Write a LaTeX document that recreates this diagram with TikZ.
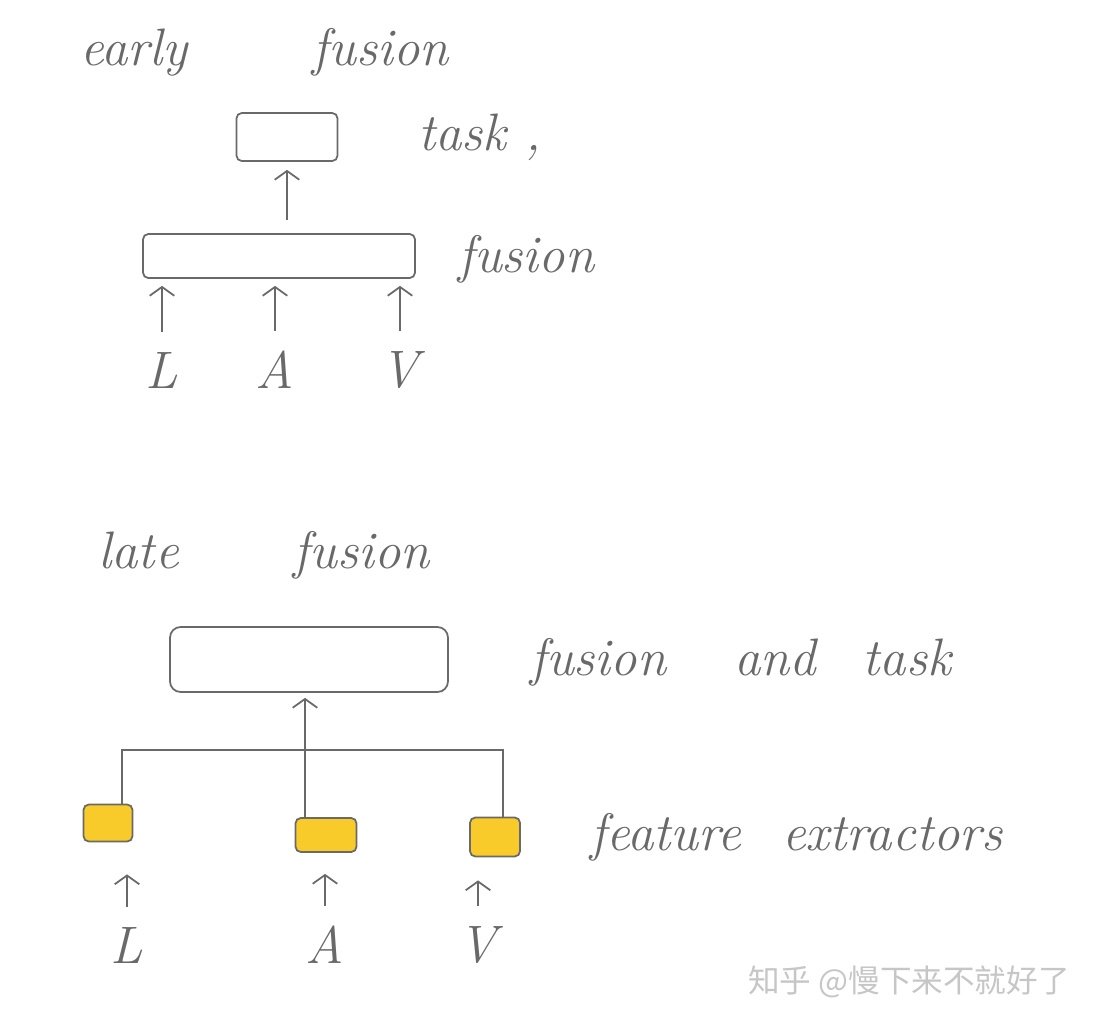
\documentclass[tikz,border=0pt]{standalone}
\usepackage{fontspec}
\newfontfamily\cjk{Noto Sans CJK SC}
\usetikzlibrary{arrows.meta}
\definecolor{inkgray}{RGB}{105,105,105}
\definecolor{marker}{RGB}{248,203,43}

\begin{document}
\begin{tikzpicture}[x=0.02cm, y=-0.02cm,
    ink/.style={draw=inkgray, line width=1pt},
    hand/.style={text=inkgray, font=\fontsize{30}{32}\selectfont\itshape, inner sep=0pt},
    box/.style={ink, rounded corners=3pt, inner sep=0pt},
    fx/.style={box, fill=marker},
    up/.style={ink, -{Straight Barb[length=5pt,width=14pt]}}]
  \useasboundingbox (0,0) rectangle (1104,1028);

  % early fusion
  \node[hand, anchor=base west] (titleEarly) at (80,65) {early\hspace{2.5cm}fusion};
  \node[box, minimum width=2.02cm, minimum height=0.96cm] (taskBox) at (287,137) {};
  \node[hand, anchor=base west] (taskLabel) at (418,150) {task ,};
  \node[box, minimum width=5.44cm, minimum height=0.88cm] (fusionBox) at (279,256) {};
  \node[hand, anchor=base west] (fusionLabel) at (458,272) {fusion};
  \node[hand] (eL) at (162,370) {L};
  \node[hand] (eA) at (275,370) {A};
  \node[hand] (eV) at (400,370) {V};

  \draw[up, shorten <=0.26cm, shorten >=0.16cm] (taskBox.south |- fusionBox.north) -- (taskBox.south);
  \draw[up, shorten <=0.4cm, shorten >=0.14cm] (eL.north) -- (eL.north |- fusionBox.south);
  \draw[up, shorten <=0.4cm, shorten >=0.14cm] (eA.north) -- (eA.north |- fusionBox.south);
  \draw[up, shorten <=0.4cm, shorten >=0.14cm] (eV.north) -- (eV.north |- fusionBox.south);

  % late fusion
  \node[hand, anchor=base west] (titleLate) at (98,568) {late\hspace{2.3cm}fusion};
  \node[box, rounded corners=6pt, minimum width=5.56cm, minimum height=1.3cm] (lateBox) at (309,659.5) {};
  \node[hand, anchor=base west] (lateLabel) at (530,675) {fusion\hspace{1.36cm}and\hspace{0.94cm}task};
  \node[fx, minimum width=0.98cm, minimum height=0.74cm] (fe1) at (108,823) {};
  \node[fx, minimum width=1.22cm, minimum height=0.68cm] (fe2) at (326,835) {};
  \node[fx, minimum width=1.0cm, minimum height=0.78cm] (fe3) at (495,837) {};
  \node[hand, anchor=base west] (feLabel) at (590,850) {feature\hspace{0.82cm}extractors};
  \node[hand] (lL) at (127,945) {L};
  \node[hand] (lA) at (325,945) {A};
  \node[hand] (lV) at (478,945) {V};
  \coordinate (join) at (305,750);

  \draw[ink] ([xshift=0.28cm]fe1.north) |- (join) -| ([xshift=0.16cm]fe3.north);
  \draw[up, shorten >=0.1cm] (join |- fe2.north) -- (join |- lateBox.south);
  \draw[up, shorten <=0.4cm, shorten >=0.64cm] (lL.north) -- (lL.north |- fe1.south);
  \draw[up, shorten <=0.4cm, shorten >=0.42cm] (lA.north) -- (lA.north |- fe2.south);
  \draw[up, shorten <=0.4cm, shorten >=0.46cm] (lV.north) -- (lV.north |- fe3.south);

  \node[text=gray!45, font=\cjk\fontsize{18}{20}\selectfont, anchor=west] (mark) at (742,982) {知乎 @慢下来不就好了};
\end{tikzpicture}
\end{document}
